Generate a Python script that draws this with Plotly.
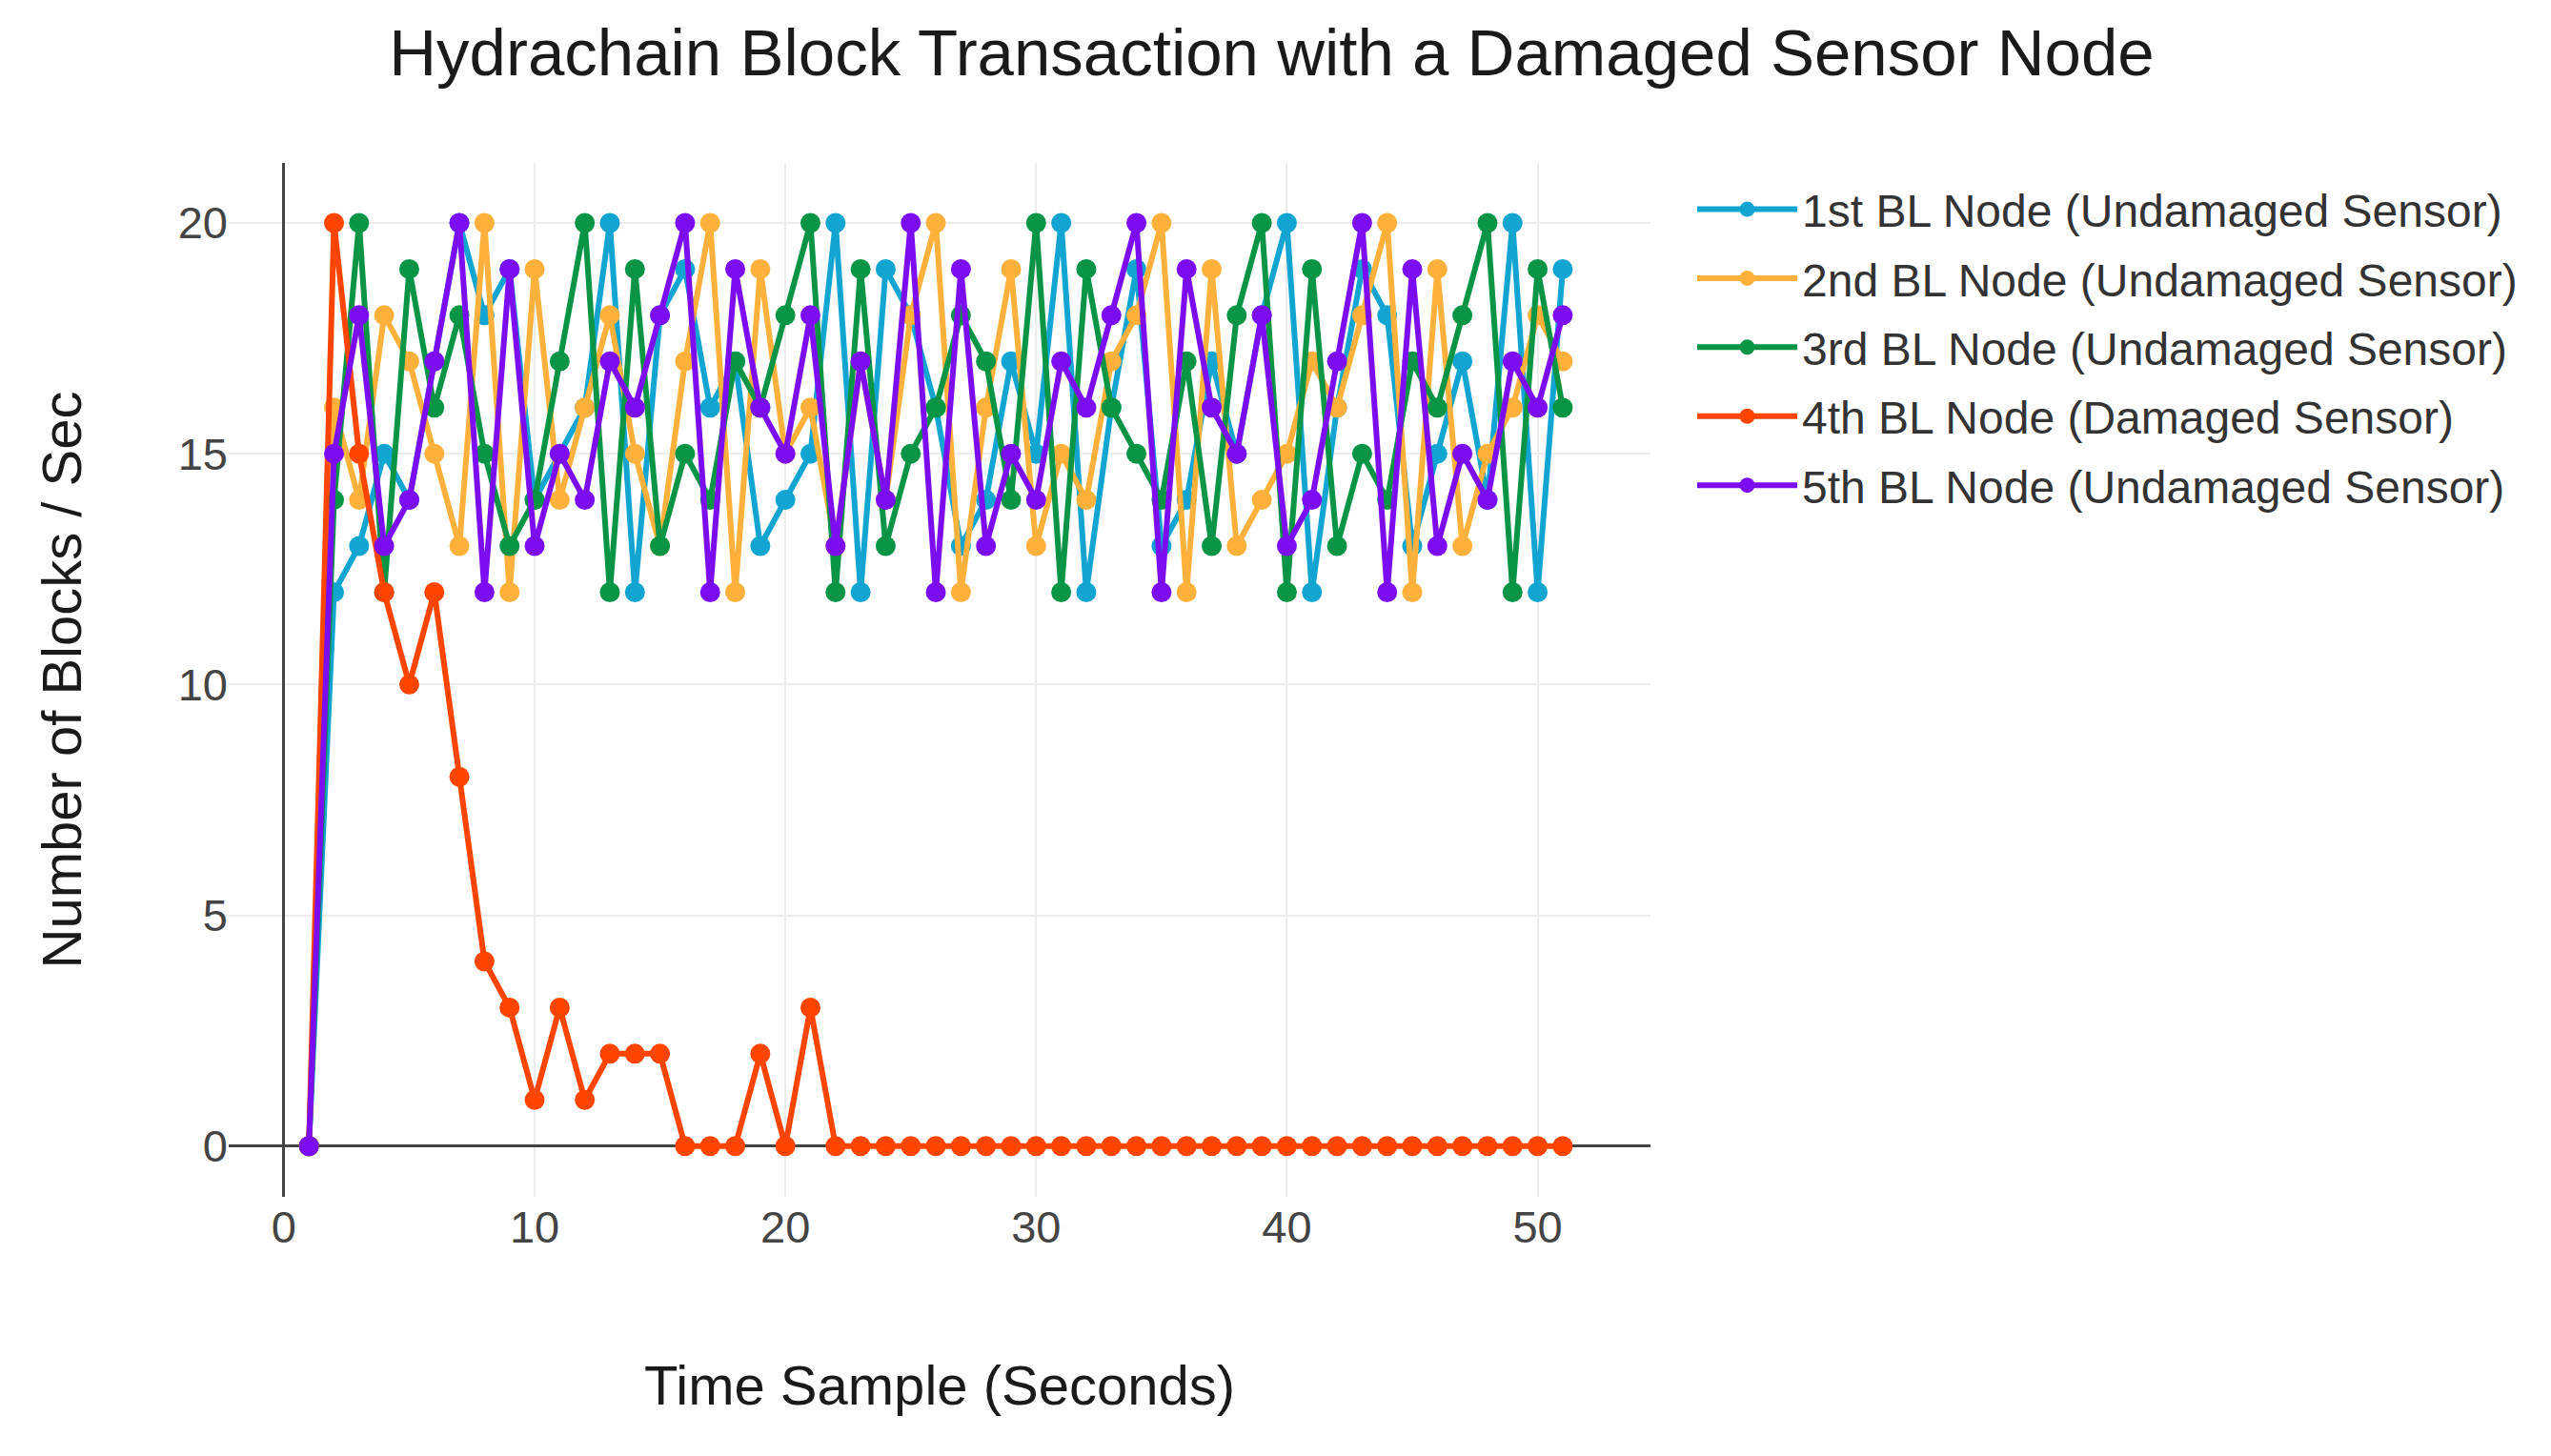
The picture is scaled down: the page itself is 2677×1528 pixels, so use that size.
import plotly.graph_objects as go

time_samples = list(range(1, 52))

node1 = [0, 12, 13, 15, 14, 17, 20, 18, 19, 14, 15, 16, 20, 12, 18, 19, 16, 17, 13, 14,
         15, 20, 12, 19, 18, 16, 13, 14, 17, 15, 20, 12, 16, 19, 13, 14, 17, 15, 18, 20,
         12, 16, 19, 18, 13, 15, 17, 14, 20, 12, 19]
node2 = [0, 16, 14, 18, 17, 15, 13, 20, 12, 19, 14, 16, 18, 15, 13, 17, 20, 12, 19, 15,
         16, 13, 17, 14, 18, 20, 12, 16, 19, 13, 15, 14, 17, 18, 20, 12, 19, 13, 14, 15,
         17, 16, 18, 20, 12, 19, 13, 15, 16, 18, 17]
node3 = [0, 14, 20, 12, 19, 16, 18, 15, 13, 14, 17, 20, 12, 19, 13, 15, 14, 17, 16, 18,
         20, 12, 19, 13, 15, 16, 18, 17, 14, 20, 12, 19, 16, 15, 14, 17, 13, 18, 20, 12,
         19, 13, 15, 14, 17, 16, 18, 20, 12, 19, 16]
node4 = [0, 20, 15, 12, 10, 12, 8, 4, 3, 1, 3, 1, 2, 2, 2, 0, 0, 0, 2, 0,
         3, 0, 0, 0, 0, 0, 0, 0, 0, 0, 0, 0, 0, 0, 0, 0, 0, 0, 0, 0,
         0, 0, 0, 0, 0, 0, 0, 0, 0, 0, 0]
node5 = [0, 15, 18, 13, 14, 17, 20, 12, 19, 13, 15, 14, 17, 16, 18, 20, 12, 19, 16, 15,
         18, 13, 17, 14, 20, 12, 19, 13, 15, 14, 17, 16, 18, 20, 12, 19, 16, 15, 18, 13,
         14, 17, 20, 12, 19, 13, 15, 14, 17, 16, 18]

series_names = [
    "1st BL Node (Undamaged Sensor)",
    "2nd BL Node (Undamaged Sensor)",
    "3rd BL Node (Undamaged Sensor)",
    "4th BL Node (Damaged Sensor)",
    "5th BL Node (Undamaged Sensor)",
]
series_values = [node1, node2, node3, node4, node5]
colors = ["#12a5d2", "#ffb13b", "#0a9546", "#ff4500", "#7b0df0"]

FONT = "Arial, 'Liberation Sans', sans-serif"

fig = go.Figure()
for i, (name, vals, col) in enumerate(zip(series_names, series_values, colors)):
    fig.add_trace(go.Scatter(
        x=time_samples, y=vals, name=name, mode="lines+markers",
        legendgroup=f"g{i}",
        line=dict(color=col, width=6),
        marker=dict(color=col, size=21),
    ))

fig.update_layout(
    width=2677, height=1528,
    paper_bgcolor="white", plot_bgcolor="white",
    margin=dict(l=232, r=953, t=163, b=280),
    font=dict(family=FONT, color="#333"),
    title=dict(text="Hydrachain Block Transaction with a Damaged Sensor Node",
               x=0.4955, xanchor="center", y=0.9695, yanchor="middle",
               font=dict(size=69, color="#1a1a1a", family=FONT)),
    legend=dict(x=1.0295, xanchor="left", y=0.99, yanchor="top",
                font=dict(size=48, color="#333", family=FONT),
                itemwidth=105, traceorder="grouped", tracegroupgap=7),
    showlegend=True,
)
fig.update_xaxes(
    range=[-2.2, 54.5], dtick=10, showgrid=True, gridcolor="#ececec", gridwidth=2,
    zeroline=True, zerolinecolor="#444", zerolinewidth=3, showline=False,
    tickfont=dict(size=47, color="#444"), ticks="",
    title=dict(text="Time Sample (Seconds)", font=dict(size=58, color="#1a1a1a"), standoff=120),
    automargin=False,
)
fig.update_yaxes(
    range=[-1.1, 21.3], dtick=5, showgrid=True, gridcolor="#ececec", gridwidth=2,
    zeroline=True, zerolinecolor="#444", zerolinewidth=3, showline=False,
    tickfont=dict(size=47, color="#444"), ticks="",
    title=dict(text="Number of Blocks / Sec", font=dict(size=58, color="#1a1a1a"), standoff=82),
    automargin=False,
)

fig.write_html("out.html")
